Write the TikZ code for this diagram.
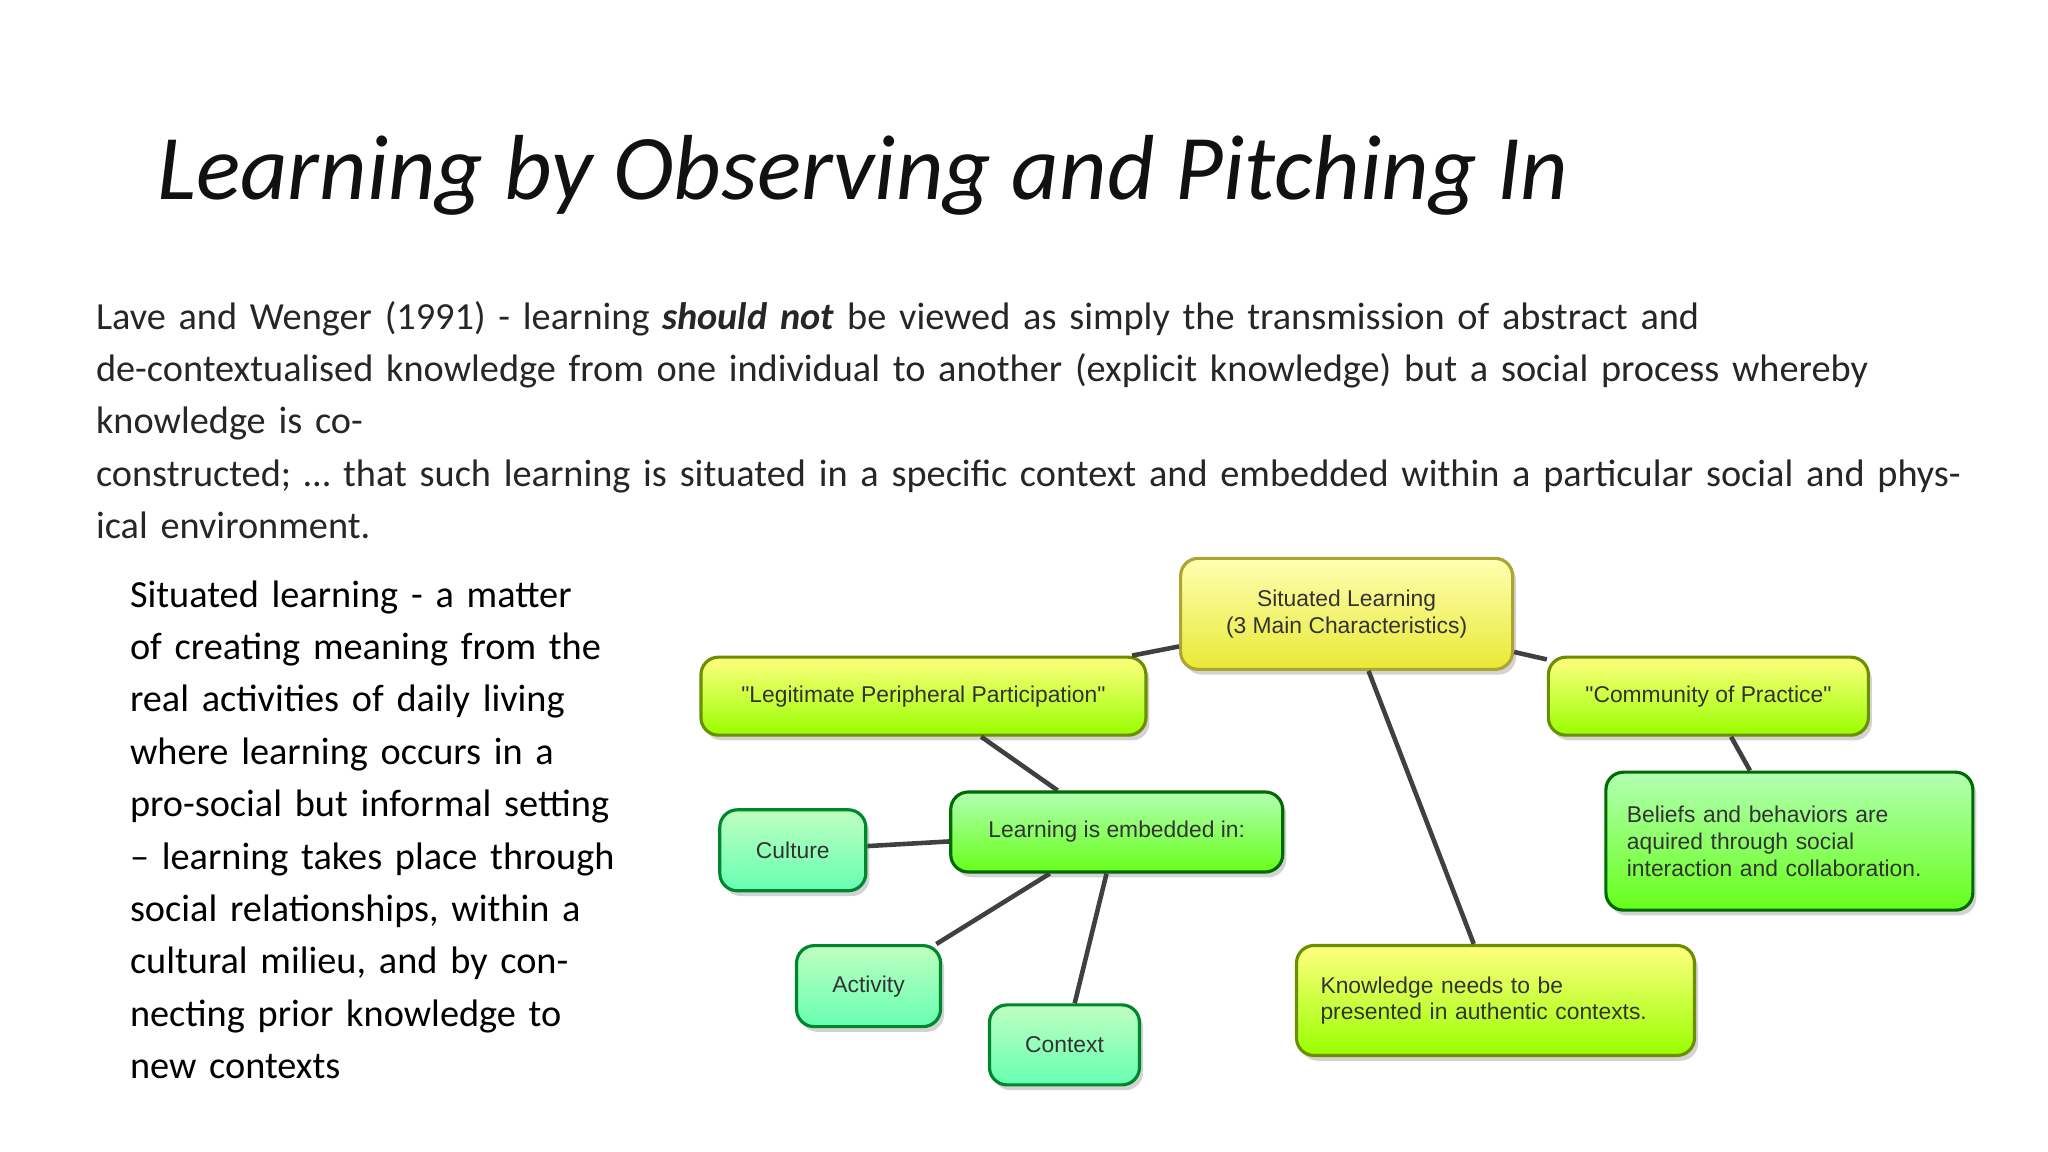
\documentclass[tikz,border=0pt]{standalone}
\usepackage{fontspec}
\setmainfont{Carlito}
\newfontfamily\diag{Liberation Sans}
\usetikzlibrary{shadows}
\definecolor{ttl}{HTML}{111111}
\newcommand{\nohy}{\hyphenpenalty=10000 \exhyphenpenalty=10000 }
\tikzset{
  box/.style={draw=#1!70!black, line width=0.9pt, rounded corners=5pt, drop shadow={shadow xshift=1pt,shadow yshift=-1.5pt,opacity=0.35},
     font=\diag\fontsize{6.5}{7.6}\selectfont, text=black!80, align=left, inner sep=2pt},
  yel/.style={box=yellow!80!olive, top color=yellow!30!white, bottom color=yellow!75!olive!70},
  ygr/.style={box=lime!80!black, top color=yellow!50!white, bottom color=lime!80!green},
  grn/.style={box=green!60!black, top color=green!30!white, bottom color=green!55!lime!90},
  teal/.style={box=green!50!teal, top color=green!25!white, bottom color=green!50!cyan!60},
  link/.style={draw=black!75, line width=1.3pt},
  body/.style={anchor=north west, align=left, inner sep=0, font=\fontsize{10.9}{14.9}\selectfont}
}
\begin{document}
\begin{tikzpicture}[x=0.013061cm,y=-0.013061cm]
\useasboundingbox (0,0) rectangle (1568,882);
\node[anchor=base west, font=\fontsize{26.3}{32}\selectfont\itshape, text=ttl, inner sep=0] (title) at (120,153) {Learning by Observing and Pitching In};
\node[body, text width=18.7cm, text=black!85] (para) at (73,230)
{\nohy Lave and Wenger (1991) - learning \textbf{\textit{should not}} be viewed as simply the transmission of abstract and de-contextualised knowledge from one individual to another (explicit knowledge) but a social process whereby knowledge is co-\\constructed; \dots\ that such learning is situated in a specific context and embedded within a particular social and physical environment.};
\node[body, text width=4.9cm] (side) at (99,444)
{\nohy Situated learning - a matter of creating meaning from the real activities of daily living where learning occurs in a pro-social but informal setting -- learning takes place through social relationships, within a cultural milieu, and by connecting prior knowledge to new contexts};

\node[yel, minimum width=3.32cm, minimum height=1.11cm, align=center] (SL) at (1031,470) {Situated Learning\\(3 Main Characteristics)};
\node[ygr, minimum width=4.45cm, minimum height=0.78cm] (LPP) at (707,533) {"Legitimate Peripheral Participation"};
\node[ygr, minimum width=3.2cm, minimum height=0.78cm] (CoP) at (1308,533) {"Community of Practice"};
\node[grn, minimum width=3.32cm, minimum height=0.8cm] (EMB) at (855,637) {Learning is embedded in:};
\node[teal, minimum width=1.46cm, minimum height=0.81cm] (CUL) at (607,651) {Culture};
\node[teal, minimum width=1.44cm, minimum height=0.81cm] (ACT) at (665,755) {Activity};
\node[teal, minimum width=1.5cm, minimum height=0.8cm] (CTX) at (815,800) {Context};
\node[ygr, minimum width=3.98cm, minimum height=1.1cm, text width=3.5cm] (KN) at (1145,766) {Knowledge needs to be\\presented in authentic contexts.};
\node[grn, minimum width=3.67cm, minimum height=1.38cm, text width=3.25cm] (BEL) at (1370,644) {Beliefs and behaviors are\\aquired through social\\interaction and collaboration.};

\draw[link] (SL) -- (LPP);
\draw[link] (SL) -- (CoP);
\draw[link] (SL) -- (KN);
\draw[link] (LPP) -- (EMB);
\draw[link] (CoP) -- (BEL);
\draw[link] (EMB) -- (CUL);
\draw[link] (EMB) -- (ACT);
\draw[link] (EMB) -- (CTX);
\end{tikzpicture}
\end{document}
